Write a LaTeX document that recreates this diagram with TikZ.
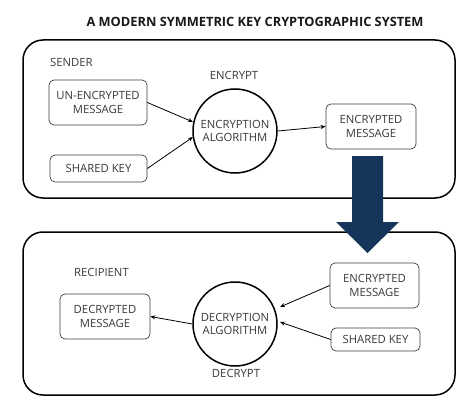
\documentclass[tikz,border=0pt]{standalone}
\usepackage{fontspec}
\setmainfont{Open Sans}
\usetikzlibrary{arrows.meta}
\definecolor{navy}{HTML}{15355A}
\definecolor{txt}{HTML}{3A3A3A}
\begin{document}
\begin{tikzpicture}[x=1pt,y=-1pt,
  font=\fontsize{11.3}{13.5}\selectfont,
  frame/.style={draw=black,line width=1.5pt,rounded corners=20pt},
  msgbox/.style={draw=black!75,line width=0.7pt,rounded corners=5pt,text=txt,align=center,inner sep=0pt},
  algo/.style={circle,draw=black,line width=1.5pt,minimum size=84pt,inner sep=0pt,text=txt,align=center},
  lbl/.style={text=txt,inner sep=0pt},
  conn/.style={-{Stealth[length=5pt,width=4pt]},line width=0.8pt}]
\useasboundingbox (0,0) rectangle (474,412);
\fill[white] (0,0) rectangle (474,412);
\node[font=\bfseries\fontsize{12.8}{14}\selectfont,text=black!90] (title) at (255,22) {A MODERN SYMMETRIC KEY CRYPTOGRAPHIC SYSTEM};
% frames
\draw[frame] (23,40) rectangle (455,198);
\draw[frame] (23,232) rectangle (455,395);
% big arrow
\fill[navy] (352,156) -- (383,156) -- (383,222) -- (399,222) -- (367.5,253) -- (336,222) -- (352,222) -- cycle;
% top
\node[lbl,anchor=west] (sender) at (50,62) {SENDER};
\node[lbl] (encrypt) at (234,75) {ENCRYPT};
\node[msgbox,minimum width=98pt,minimum height=45pt] (unenc) at (98,102.5) {UN-ENCRYPTED\\MESSAGE};
\node[msgbox,minimum width=97pt,minimum height=27pt] (key1) at (98.5,168.5) {SHARED KEY};
\node[algo] (enc) at (235,131) {ENCRYPTION\\ALGORITHM};
\node[msgbox,minimum width=90pt,minimum height=45pt] (encmsg1) at (371,126.5) {ENCRYPTED\\MESSAGE};
\draw[conn] (unenc.east) -- (193,122);
\draw[conn] (key1.east) -- (193,137);
\draw[conn] (enc.east) -- (encmsg1.west);
% bottom
\node[lbl,anchor=west] (recipient) at (74,272) {RECIPIENT};
\node[msgbox,minimum width=90pt,minimum height=45pt] (decmsg) at (105,316.5) {DECRYPTED\\MESSAGE};
\node[algo] (dec) at (235,324) {DECRYPTION\\ALGORITHM};
\node[msgbox,minimum width=89pt,minimum height=45pt] (encmsg2) at (374.5,285.5) {ENCRYPTED\\MESSAGE};
\node[msgbox,minimum width=89pt,minimum height=23pt] (key2) at (375.5,339.5) {SHARED KEY};
\node[lbl] (decrypt) at (236,373) {DECRYPT};
\draw[conn] (encmsg2.west) -- (280,307);
\draw[conn] (key2.west) -- (280,322);
\draw[conn] (dec.west) -- (decmsg.east);
\end{tikzpicture}
\end{document}
